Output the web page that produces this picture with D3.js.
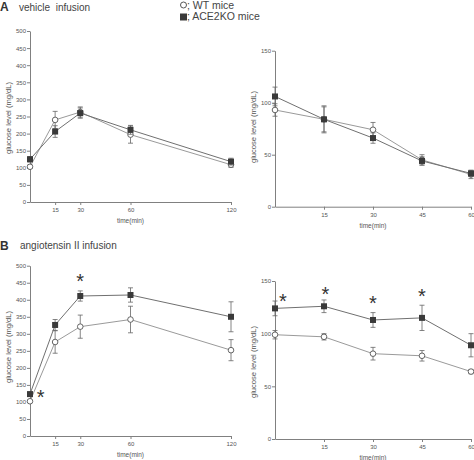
<!DOCTYPE html>
<html>
<head>
<meta charset="utf-8">
<script src="https://cdn.jsdelivr.net/npm/d3@7"></script>
<style>
  body { margin: 0; background: #fff; }
  svg { font-family: "Liberation Sans", Arial, sans-serif; }
  .axis path, .axis line { stroke: #808080; }
  .axis text { fill: #555; font-size: 6px; }
</style>
</head>
<body>
<script>
//time points
var timesGtt = [0, 15, 30, 60, 120];
var timesItt = [0, 15, 30, 45, 60];

//tick labels
var ticksGttX = [15, 30, 60, 120];
var ticksGttY = [0, 50, 100, 150, 200, 250, 300, 350, 400, 450, 500];
var ticksIttX = [15, 30, 45, 60];
var ticksIttY = [0, 50, 100, 150];

//vehicle infusion, glucose tolerance
var vehGttWT = [103, 240, 263, 197, 109];
var vehGttWTErr = [5, 25, 15, 25, 8];
var vehGttKO = [125, 206, 260, 211, 118];
var vehGttKOErr = [8, 17, 15, 13, 10];

//vehicle infusion, insulin tolerance
var vehIttWT = [93, 84, 74, 45, 31];
var vehIttWTErr = [6, 12, 7, 5, 4];
var vehIttKO = [106, 84, 66, 44, 32];
var vehIttKOErr = [9, 13, 5, 4, 3];

//angiotensin II infusion, glucose tolerance
var angGttWT = [102, 276, 321, 342, 252];
var angGttWTErr = [4, 33, 34, 39, 31];
var angGttKO = [123, 326, 411, 414, 350];
var angGttKOErr = [6, 16, 15, 21, 44];

//angiotensin II infusion, insulin tolerance
var angIttWT = [99, 97, 81, 79, 64];
var angIttWTErr = [4, 3, 6, 5, 2];
var angIttKO = [124, 126, 113, 115, 89];
var angIttKOErr = [7, 6, 7, 12, 11];

//significance stars (time, value)
var angGttStarT = [30, 6.4];
var angGttStarV = [468, 129];
var angIttStarT = [2.4, 15.4, 30, 45];
var angIttStarV = [135, 141.5, 133.6, 140];

var svgWidth = 474;
var svgHeight = 460;

var svg = d3.select("body")
  .append("svg")
  .attr("width", svgWidth)
  .attr("height", svgHeight);

var lineWT = "#9a9a9a";
var lineKO = "#707070";
var markKO = "#3a3a3a";

//draws one panel
function drawPanel(p) {
    var xScale = d3.scaleLinear().domain(p.xDomain).range(p.xRange);
    var yScale = d3.scaleLinear().domain(p.yDomain).range(p.yRange);

    var g = svg.append("g");

    var bottomAxis = d3.axisBottom(xScale)
        .tickValues(p.xTicks)
        .tickSize(3)
        .tickSizeOuter(0)
        .tickPadding(3);
    var leftAxis = d3.axisLeft(yScale)
        .tickValues(p.yTicks)
        .tickSize(3)
        .tickSizeOuter(0)
        .tickPadding(1);

    g.append("g")
        .attr("class", "axis")
        .attr("transform", `translate(0, ${p.yRange[0]})`)
        .call(bottomAxis);
    g.append("g")
        .attr("class", "axis")
        .attr("transform", `translate(${p.xRange[0]}, 0)`)
        .call(leftAxis);

    //axis titles
    g.append("text")
        .attr("x", (p.xRange[0] + p.xRange[1]) / 2)
        .attr("y", p.yRange[0] + 21)
        .attr("text-anchor", "middle")
        .attr("font-size", "6.5px")
        .attr("fill", "#555")
        .text("time(min)");
    g.append("text")
        .attr("transform", `translate(${p.yLabelX}, ${p.yLabelY}) rotate(-90)`)
        .attr("text-anchor", "middle")
        .attr("font-size", "7.6px")
        .attr("fill", "#555")
        .text("glucose level (mg/dL)");

    var series = [
        { vals: p.wt, err: p.wtErr, kind: "wt" },
        { vals: p.ko, err: p.koErr, kind: "ko" }
    ];

    series.forEach(s => {
        var rows = p.times.map((t, i) => ({ t: t, v: s.vals[i], e: s.err[i] }));
        var color = s.kind === "wt" ? lineWT : lineKO;

        //error bars
        var eb = g.append("g");
        rows.forEach(d => {
            var x = xScale(d.t);
            var y0 = yScale(d.v - d.e), y1 = yScale(d.v + d.e);
            eb.append("line").attr("x1", x).attr("x2", x).attr("y1", y0).attr("y2", y1)
                .attr("stroke", "#666").attr("stroke-width", 0.8);
            [y0, y1].forEach(yy => {
                eb.append("line").attr("x1", x - 2.5).attr("x2", x + 2.5).attr("y1", yy).attr("y2", yy)
                    .attr("stroke", "#666").attr("stroke-width", 0.8);
            });
        });

        //line
        g.append("path")
            .datum(rows)
            .attr("fill", "none")
            .attr("stroke", color)
            .attr("stroke-width", 1)
            .attr("d", d3.line().x(d => xScale(d.t)).y(d => yScale(d.v)));

        //markers
        if (s.kind === "wt") {
            g.selectAll(null)
                .data(rows)
                .enter()
                .append("circle")
                .attr("cx", d => xScale(d.t))
                .attr("cy", d => yScale(d.v))
                .attr("r", 2.8)
                .attr("fill", "#fff")
                .attr("stroke", "#555")
                .attr("stroke-width", 0.9);
        } else {
            g.selectAll(null)
                .data(rows)
                .enter()
                .append("rect")
                .attr("x", d => xScale(d.t) - 3)
                .attr("y", d => yScale(d.v) - 3)
                .attr("width", 6)
                .attr("height", 6)
                .attr("fill", markKO);
        }
    });

    //stars
    if (p.starT) {
        p.starT.forEach((t, i) => {
            g.append("text")
                .attr("x", xScale(t))
                .attr("y", yScale(p.starV[i]) + 11.5)
                .attr("text-anchor", "middle")
                .attr("font-size", "20px")
                .attr("fill", "#333")
                .text("*");
        });
    }
}

//panel A left
drawPanel({
    times: timesGtt, wt: vehGttWT, wtErr: vehGttWTErr, ko: vehGttKO, koErr: vehGttKOErr,
    xDomain: [0, 120], xRange: [30, 231], yDomain: [0, 500], yRange: [202, 31],
    xTicks: ticksGttX, yTicks: ticksGttY, yLabelX: 11, yLabelY: 118
});

//panel A right
drawPanel({
    times: timesItt, wt: vehIttWT, wtErr: vehIttWTErr, ko: vehIttKO, koErr: vehIttKOErr,
    xDomain: [0, 60], xRange: [275, 471], yDomain: [0, 150], yRange: [206.7, 50.7],
    xTicks: ticksIttX, yTicks: ticksIttY, yLabelX: 256, yLabelY: 127
});

//panel B left
drawPanel({
    times: timesGtt, wt: angGttWT, wtErr: angGttWTErr, ko: angGttKO, koErr: angGttKOErr,
    xDomain: [0, 120], xRange: [30, 231], yDomain: [0, 500], yRange: [436, 265.7],
    xTicks: ticksGttX, yTicks: ticksGttY, yLabelX: 11, yLabelY: 347,
    starT: angGttStarT, starV: angGttStarV
});

//panel B right
drawPanel({
    times: timesItt, wt: angIttWT, wtErr: angIttWTErr, ko: angIttKO, koErr: angIttKOErr,
    xDomain: [0, 60], xRange: [275, 471], yDomain: [0, 150], yRange: [439, 281],
    xTicks: ticksIttX, yTicks: ticksIttY, yLabelX: 256, yLabelY: 362,
    starT: angIttStarT, starV: angIttStarV
});

//panel headings
svg.append("text").attr("x", 0).attr("y", 11)
    .attr("font-size", "12px").attr("font-weight", "bold").attr("fill", "#333").text("A");
svg.append("text").attr("x", 19).attr("y", 11)
    .attr("font-size", "10px").attr("fill", "#444").attr("xml:space", "preserve").text("vehicle  infusion");
svg.append("text").attr("x", 0).attr("y", 250)
    .attr("font-size", "12px").attr("font-weight", "bold").attr("fill", "#333").text("B");
svg.append("text").attr("x", 20).attr("y", 249)
    .attr("font-size", "10px").attr("fill", "#444").text("angiotensin II infusion");

//legend
svg.append("circle").attr("cx", 183.5).attr("cy", 5).attr("r", 3)
    .attr("fill", "#fff").attr("stroke", "#444").attr("stroke-width", 0.9);
svg.append("text").attr("x", 187).attr("y", 8.5)
    .attr("font-size", "10.5px").attr("fill", "#444").text("; WT mice");
svg.append("rect").attr("x", 180).attr("y", 13.5).attr("width", 7).attr("height", 7)
    .attr("fill", markKO);
svg.append("text").attr("x", 187).attr("y", 20)
    .attr("font-size", "10.5px").attr("fill", "#444").text("; ACE2KO mice");
</script>
</body>
</html>
